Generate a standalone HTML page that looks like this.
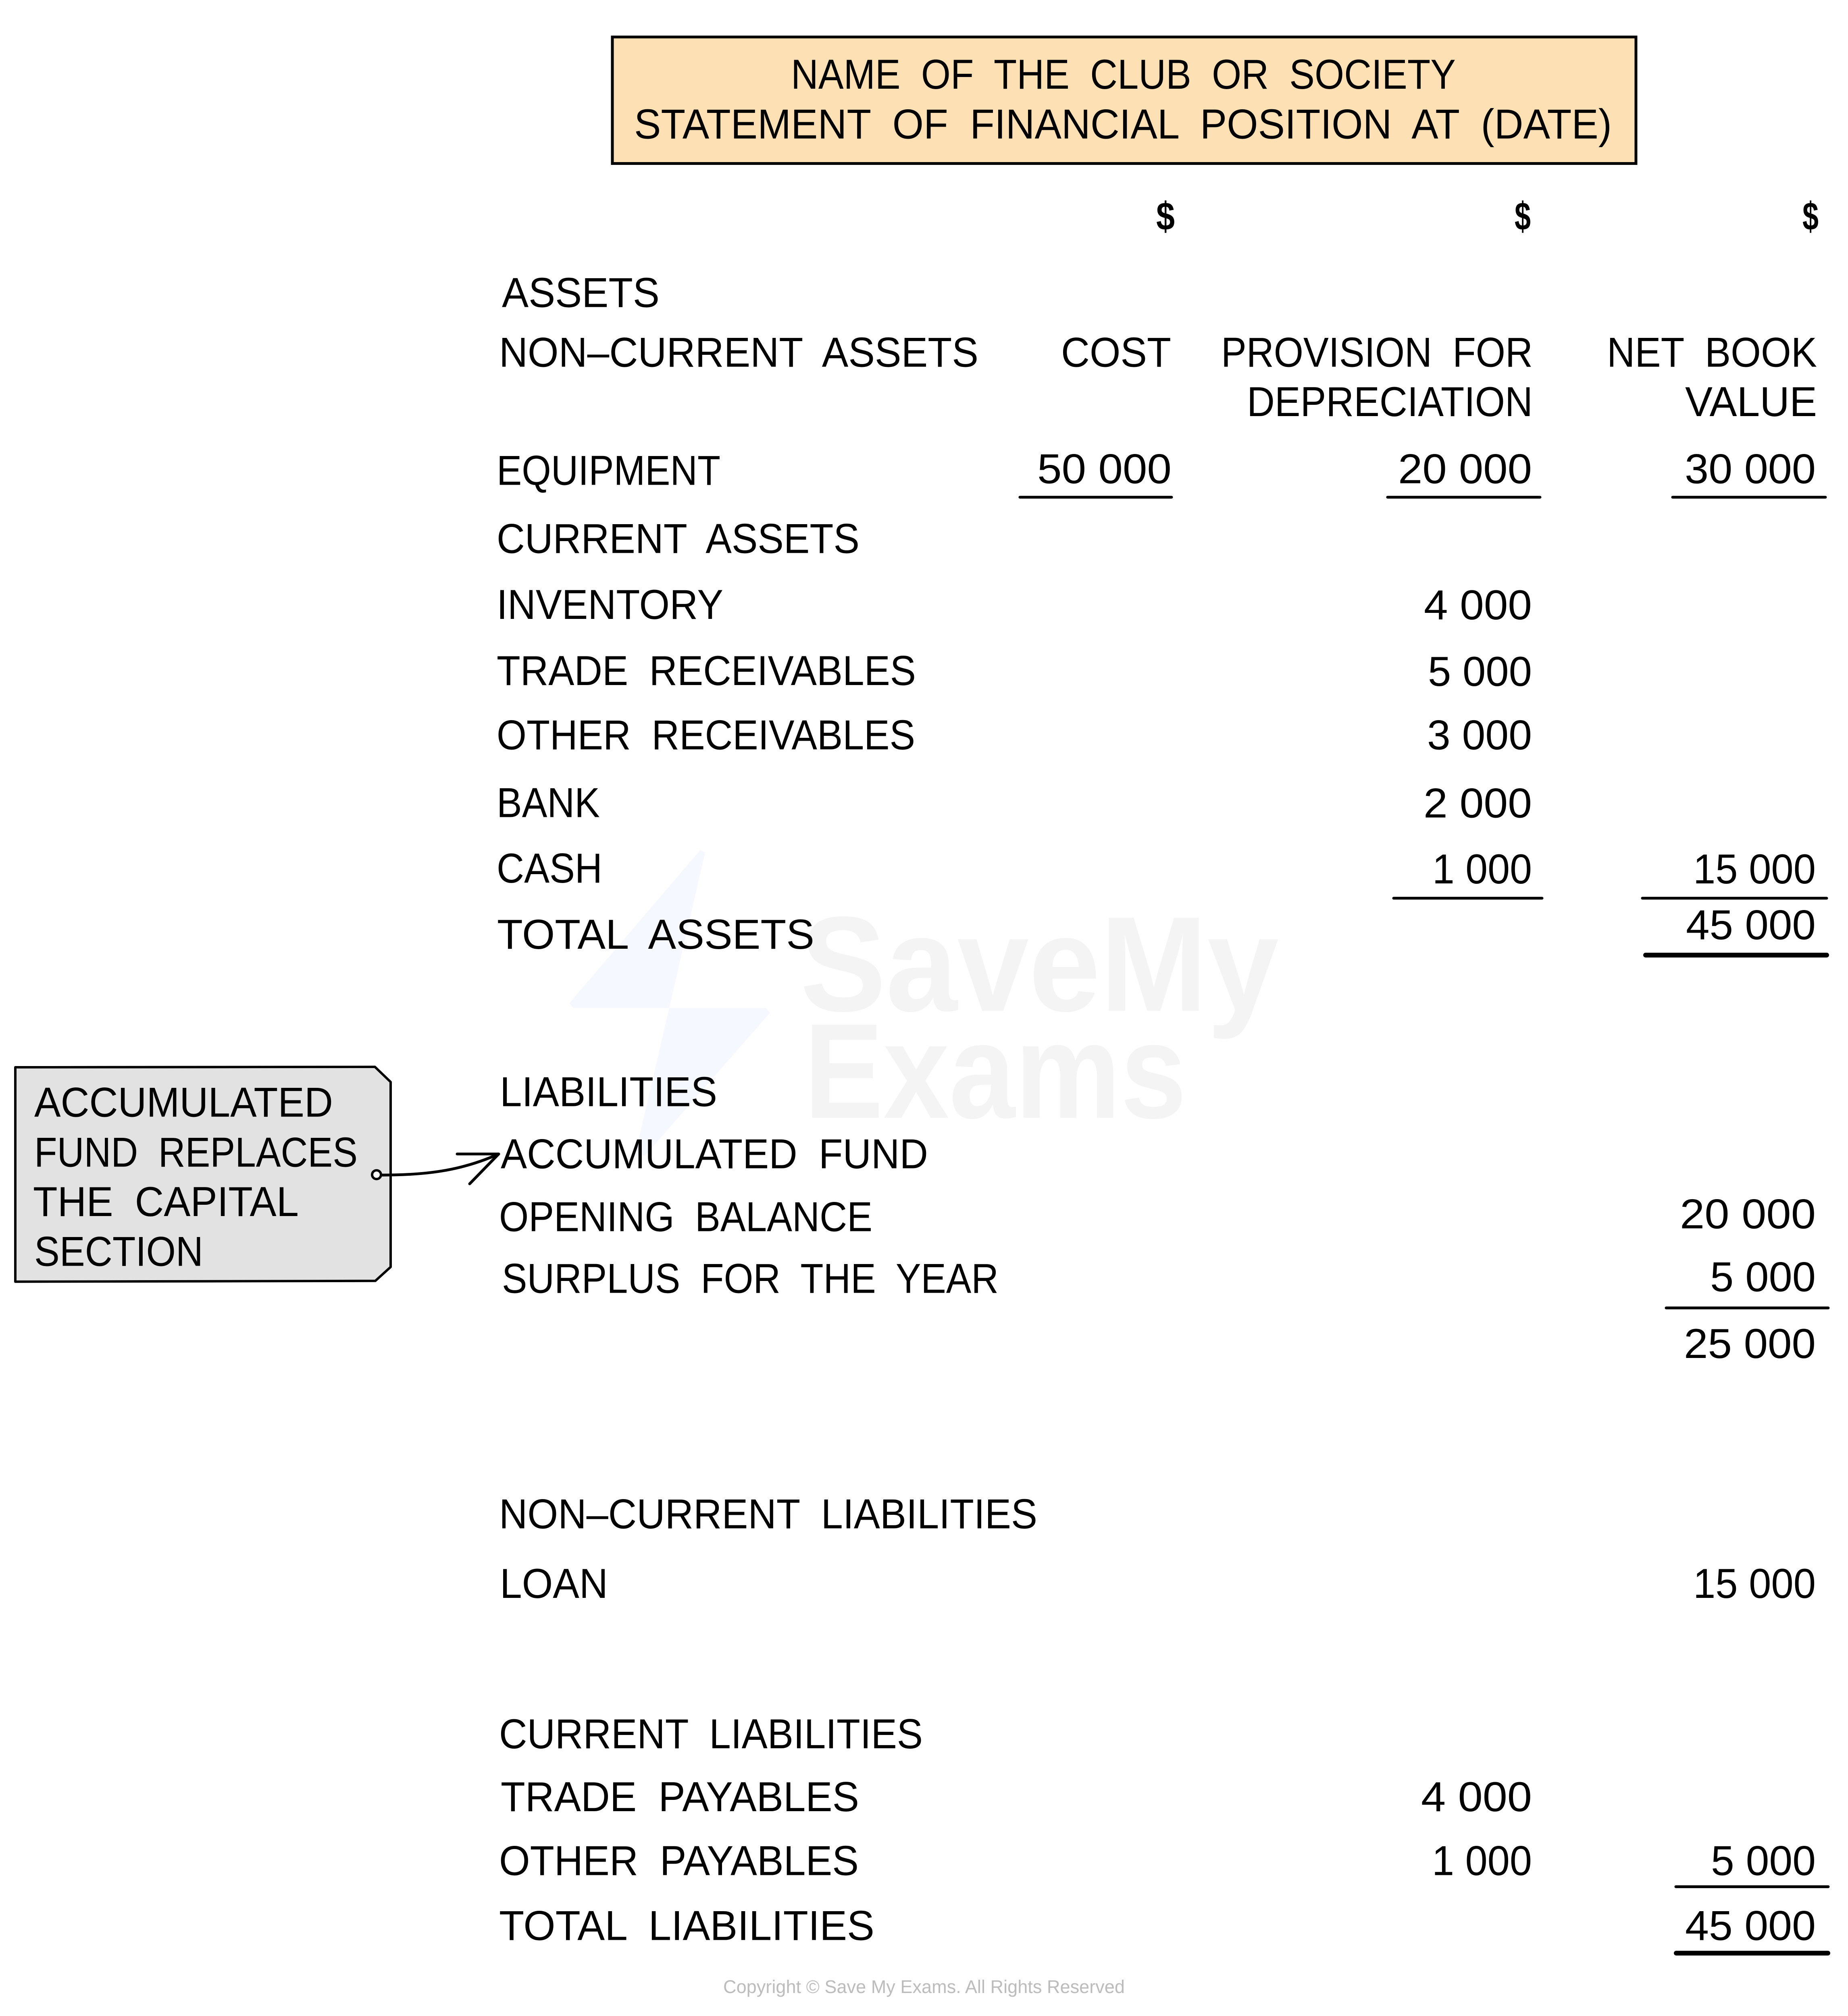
<!DOCTYPE html>
<html style="height:100%"><head><meta charset="utf-8"><style>
html,body{margin:0;padding:0;background:#fff;width:100%;height:100%;overflow:hidden}
svg{display:block;position:fixed;left:0;top:0;width:100vw;height:100vh;overflow:hidden}
text{font-family:"Liberation Sans",sans-serif;fill:#000}
.t{font-size:105px;word-spacing:28px}
.n{font-size:105px}
.d{font-size:100px;font-weight:bold}
</style></head><body>
<svg xmlns="http://www.w3.org/2000/svg" viewBox="0 0 4584 5068" preserveAspectRatio="none">
<rect width="4584" height="5068" fill="#fff"/>
<!-- watermark -->
<polygon points="1737,2137 1749,2143 1660,2534 1422,2534 1412,2522" fill="#f5f8ff"/>
<polygon points="1660,2534 1900,2534 1910,2546 1600,2905 1575,2905" fill="#f5f8ff"/>
<text x="1985" y="2541" font-size="340" font-weight="bold" textLength="1187" lengthAdjust="spacingAndGlyphs" style="fill:#f4f4f4">SaveMy</text>
<text x="1995" y="2810" font-size="340" font-weight="bold" textLength="948" lengthAdjust="spacingAndGlyphs" style="fill:#f4f4f4">Exams</text>
<!-- title -->
<rect x="1519" y="93" width="2539" height="318" fill="#fde1b4" stroke="#000" stroke-width="7"/>
<text class="t" x="1962" y="223" textLength="1649" lengthAdjust="spacingAndGlyphs">NAME OF THE CLUB OR SOCIETY</text>
<text class="t" x="1573" y="348" textLength="2425" lengthAdjust="spacingAndGlyphs">STATEMENT OF FINANCIAL POSITION AT (DATE)</text>
<text class="d" x="2868" y="578" textLength="46" lengthAdjust="spacingAndGlyphs">$</text>
<text class="d" x="3757" y="578" textLength="40" lengthAdjust="spacingAndGlyphs">$</text>
<text class="d" x="4471" y="578" textLength="40" lengthAdjust="spacingAndGlyphs">$</text>
<text class="t" x="1245" y="772" textLength="391" lengthAdjust="spacingAndGlyphs">ASSETS</text>
<text class="t" x="1238" y="922" textLength="1189" lengthAdjust="spacingAndGlyphs">NON–CURRENT ASSETS</text>
<text class="t" x="2632" y="922" textLength="273" lengthAdjust="spacingAndGlyphs">COST</text>
<text class="t" x="3029" y="922" textLength="773" lengthAdjust="spacingAndGlyphs">PROVISION FOR</text>
<text class="t" x="3986" y="922" textLength="521" lengthAdjust="spacingAndGlyphs">NET BOOK</text>
<text class="t" x="3093" y="1046" textLength="709" lengthAdjust="spacingAndGlyphs">DEPRECIATION</text>
<text class="t" x="4180" y="1046" textLength="327" lengthAdjust="spacingAndGlyphs">VALUE</text>
<text class="t" x="1232" y="1219" textLength="555" lengthAdjust="spacingAndGlyphs">EQUIPMENT</text>
<text class="n" x="2573" y="1215" textLength="333" lengthAdjust="spacingAndGlyphs">50 000</text>
<text class="n" x="3468" y="1215" textLength="332" lengthAdjust="spacingAndGlyphs">20 000</text>
<text class="n" x="4179" y="1215" textLength="325" lengthAdjust="spacingAndGlyphs">30 000</text>
<text class="t" x="1232" y="1390" textLength="900" lengthAdjust="spacingAndGlyphs">CURRENT ASSETS</text>
<text class="t" x="1232" y="1556" textLength="562" lengthAdjust="spacingAndGlyphs">INVENTORY</text>
<text class="n" x="3532" y="1557" textLength="268" lengthAdjust="spacingAndGlyphs">4 000</text>
<text class="t" x="1232" y="1722" textLength="1040" lengthAdjust="spacingAndGlyphs">TRADE RECEIVABLES</text>
<text class="n" x="3542" y="1724" textLength="258" lengthAdjust="spacingAndGlyphs">5 000</text>
<text class="t" x="1232" y="1884" textLength="1038" lengthAdjust="spacingAndGlyphs">OTHER RECEIVABLES</text>
<text class="n" x="3540" y="1884" textLength="260" lengthAdjust="spacingAndGlyphs">3 000</text>
<text class="t" x="1232" y="2054" textLength="256" lengthAdjust="spacingAndGlyphs">BANK</text>
<text class="n" x="3531" y="2055" textLength="269" lengthAdjust="spacingAndGlyphs">2 000</text>
<text class="t" x="1232" y="2219" textLength="262" lengthAdjust="spacingAndGlyphs">CASH</text>
<text class="n" x="3553" y="2221" textLength="247" lengthAdjust="spacingAndGlyphs">1 000</text>
<text class="n" x="4200" y="2221" textLength="304" lengthAdjust="spacingAndGlyphs">15 000</text>
<text class="t" x="1233" y="2385" textLength="787" lengthAdjust="spacingAndGlyphs">TOTAL ASSETS</text>
<text class="n" x="4182" y="2361" textLength="322" lengthAdjust="spacingAndGlyphs">45 000</text>
<text class="t" x="1240" y="2781" textLength="539" lengthAdjust="spacingAndGlyphs">LIABILITIES</text>
<text class="t" x="1242" y="2937" textLength="1060" lengthAdjust="spacingAndGlyphs">ACCUMULATED FUND</text>
<text class="t" x="1238" y="3095" textLength="926" lengthAdjust="spacingAndGlyphs">OPENING BALANCE</text>
<text class="n" x="4167" y="3088" textLength="337" lengthAdjust="spacingAndGlyphs">20 000</text>
<text class="t" x="1245" y="3250" textLength="1232" lengthAdjust="spacingAndGlyphs">SURPLUS FOR THE YEAR</text>
<text class="n" x="4242" y="3246" textLength="262" lengthAdjust="spacingAndGlyphs">5 000</text>
<text class="n" x="4177" y="3414" textLength="327" lengthAdjust="spacingAndGlyphs">25 000</text>
<text class="t" x="1238" y="3842" textLength="1335" lengthAdjust="spacingAndGlyphs">NON–CURRENT LIABILITIES</text>
<text class="t" x="1240" y="4017" textLength="268" lengthAdjust="spacingAndGlyphs">LOAN</text>
<text class="n" x="4200" y="4017" textLength="304" lengthAdjust="spacingAndGlyphs">15 000</text>
<text class="t" x="1238" y="4395" textLength="1051" lengthAdjust="spacingAndGlyphs">CURRENT LIABILITIES</text>
<text class="t" x="1242" y="4553" textLength="889" lengthAdjust="spacingAndGlyphs">TRADE PAYABLES</text>
<text class="n" x="3525" y="4553" textLength="275" lengthAdjust="spacingAndGlyphs">4 000</text>
<text class="t" x="1238" y="4714" textLength="892" lengthAdjust="spacingAndGlyphs">OTHER PAYABLES</text>
<text class="n" x="3552" y="4714" textLength="248" lengthAdjust="spacingAndGlyphs">1 000</text>
<text class="n" x="4244" y="4714" textLength="260" lengthAdjust="spacingAndGlyphs">5 000</text>
<text class="t" x="1238" y="4877" textLength="931" lengthAdjust="spacingAndGlyphs">TOTAL LIABILITIES</text>
<text class="n" x="4180" y="4877" textLength="324" lengthAdjust="spacingAndGlyphs">45 000</text>
<!-- rules -->
<g stroke="#000" stroke-linecap="round" fill="none">
<g stroke-width="7">
<path d="M2530 1250H2906"/>
<path d="M3442 1250H3820"/>
<path d="M4149 1250H4528"/>
<path d="M3457 2258H3825"/>
<path d="M4074 2258H4531"/>
<path d="M4133 3288H4535"/>
<path d="M4157 4743H4535"/>
</g>
<g stroke-width="12">
<path d="M4082 2401H4531"/>
<path d="M4158 4910H4534"/>
</g>
</g>
<!-- callout -->
<polygon points="38,2683 930,2682 969,2720 969,3185 931,3220 38,3222" fill="#e2e2e2" stroke="#000" stroke-width="6" stroke-linejoin="round"/>
<text class="t" x="85" y="2807" textLength="741" lengthAdjust="spacingAndGlyphs">ACCUMULATED</text>
<text class="t" x="85" y="2933" textLength="802" lengthAdjust="spacingAndGlyphs">FUND REPLACES</text>
<text class="t" x="82" y="3057" textLength="659" lengthAdjust="spacingAndGlyphs">THE CAPITAL</text>
<text class="t" x="85" y="3182" textLength="419" lengthAdjust="spacingAndGlyphs">SECTION</text>
<ellipse cx="934" cy="2953" rx="11" ry="11" fill="#fff" stroke="#000" stroke-width="6"/>
<path d="M946 2954C1050 2954 1140 2945 1237 2901" fill="none" stroke="#000" stroke-width="7" stroke-linecap="round"/>
<path d="M1134 2901H1237L1165 2976" fill="none" stroke="#000" stroke-width="7" stroke-linecap="round" stroke-linejoin="round"/>
<!-- copyright -->
<text x="1794" y="5010" font-size="46" textLength="996" lengthAdjust="spacingAndGlyphs" style="fill:#bcbcbc">Copyright © Save My Exams. All Rights Reserved</text>
</svg>
</body></html>
